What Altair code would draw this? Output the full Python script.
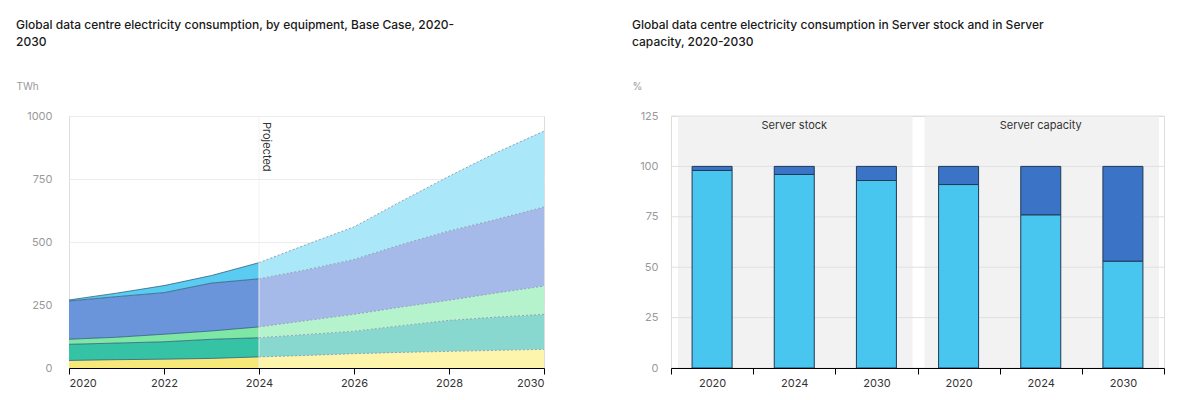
import altair as alt
import pandas as pd

# ---------- Left panel: consumption by equipment (TWh) ----------
years = [2020, 2021, 2022, 2023, 2024, 2025, 2026, 2027, 2028, 2029, 2030]
network = [30, 33, 35, 38, 44, 50, 57, 62, 66, 70, 74]
cooling = [64, 66, 69, 76, 76, 83, 89, 106, 123, 132, 139]
storage = [20, 23, 30, 33, 43, 55, 67, 74, 80, 96, 112]
conventional = [152, 161, 165, 190, 191, 202, 218, 248, 275, 292, 314]
accelerated = [4, 14, 28, 30, 64, 100, 129, 172, 217, 265, 301]

series_names = ["Network", "Cooling and other infrastructure", "Storage",
                "Conventional servers", "Accelerated servers"]
series_values = [network, cooling, storage, conventional, accelerated]
hist_colors = ["#f6e97a", "#36c2a4", "#7fe7a6", "#6a95da", "#5acbf1"]
proj_colors = ["#fdf5ab", "#88d8cf", "#b5f3cd", "#a5bae8", "#aae7f8"]
projection_start = 2024

rows = []
for phase, yr_sel in (("hist", [y for y in years if y <= projection_start]),
                      ("proj", [y for y in years if y >= projection_start])):
    for order, (name, vals) in enumerate(zip(series_names, series_values)):
        for y, v in zip(years, vals):
            if y in yr_sel:
                rows.append({"year": y, "series": name, "order": order,
                             "value": v, "phase": phase, "key": f"{phase}:{name}"})
eq = pd.DataFrame(rows)

key_domain = [f"hist:{n}" for n in series_names] + [f"proj:{n}" for n in series_names]
key_range = hist_colors + proj_colors

FONT = "Inter"

base = alt.Chart(eq).transform_stack(
    stack="value", groupby=["phase", "year"], as_=["y0", "y1"],
    sort=[alt.SortField("order", order="ascending")]
)

x_enc = alt.X("year:Q", scale=alt.Scale(domain=[2020, 2030], nice=False),
              axis=alt.Axis(values=[2020, 2022, 2024, 2026, 2028, 2030], format="d",
                            title=None, grid=False, domainColor="#000", tickColor="#000",
                            tickSize=6, labelColor="#333", labelFontSize=11,
                            labelPadding=3, labelFont=FONT))
y_enc = alt.Y("y1:Q", scale=alt.Scale(domain=[0, 1000], nice=False),
              axis=alt.Axis(values=[0, 250, 500, 750, 1000], format="d", title="TWh",
                            titleAngle=0, titleAlign="left", titleBaseline="middle",
                            titleX=-53, titleY=-30, titleFontWeight="normal",
                            titleColor="#999", titleFontSize=10, titleFont=FONT,
                            domain=False, ticks=False, gridColor="#ececec",
                            labelColor="#999", labelFontSize=11, labelPadding=17,
                            labelFont=FONT))
color_enc = alt.Color("key:N", scale=alt.Scale(domain=key_domain, range=key_range), legend=None)

area_hist = base.transform_filter("datum.phase == 'hist'").mark_area().encode(
    x=x_enc, y=y_enc, y2="y0:Q", color=color_enc, detail="series:N")
area_proj = base.transform_filter("datum.phase == 'proj'").mark_area().encode(
    x=x_enc, y=y_enc, y2="y0:Q", color=color_enc, detail="series:N")
line_hist = base.transform_filter("datum.phase == 'hist'").mark_line(
    color="#2d5b78", strokeWidth=0.9, opacity=0.85).encode(
    x=x_enc, y=y_enc, detail="series:N")
line_proj = base.transform_filter("datum.phase == 'proj'").mark_line(
    color="#8ea3b5", strokeWidth=1, strokeDash=[2, 2]).encode(
    x=x_enc, y=y_enc, detail="series:N")

proj_rule = alt.Chart(pd.DataFrame({"year": [projection_start]})).mark_rule(
    color="#f2f2f2", strokeWidth=1, opacity=0.9).encode(
    x="year:Q", y=alt.datum(0), y2=alt.datum(1000))
proj_text = alt.Chart(pd.DataFrame({"year": [projection_start], "label": ["Projected"]})).mark_text(
    angle=90, align="left", baseline="bottom", dx=6, dy=-2, fontSize=11, color="#333",
    font=FONT).encode(x="year:Q", y=alt.datum(1000), text="label:N")

left = alt.layer(area_hist, area_proj, line_hist, line_proj, proj_rule, proj_text).properties(
    width=475, height=252,
    title=alt.TitleParams(
        text=["Global data centre electricity consumption, by equipment, Base Case, 2020-",
              "2030"],
        anchor="start", frame="bounds", fontSize=12, fontWeight=500, color="#1a1a1a",
        font=FONT, lineHeight=17, offset=32)
)

# ---------- Right panel: shares in server stock and server capacity (%) ----------
groups = ["Server stock", "Server capacity"]
bar_years = ["2020", "2024", "2030"]
conventional_share = [98, 96, 93, 91, 76, 53]
accelerated_share = [2, 4, 7, 9, 24, 47]
share_names = ["Conventional servers", "Accelerated servers"]
share_colors = ["#48c6ef", "#3b73c7"]

cats = [f"{g}|{y}" for g in groups for y in bar_years]
bar_rows = []
for order, (name, vals) in enumerate(zip(share_names, [conventional_share, accelerated_share])):
    for c, v in zip(cats, vals):
        bar_rows.append({"cat": c, "series": name, "order": order, "value": v})
bars_df = pd.DataFrame(bar_rows)

panel_df = pd.DataFrame({
    "group": groups,
    "start": [cats[0], cats[3]],
    "end": [cats[2], cats[5]],
    "mid": [cats[1], cats[4]],
})
grid_df = pd.DataFrame({"v": [0, 25, 50, 75, 100, 125]})

x_scale = alt.Scale(domain=cats, paddingInner=0, paddingOuter=0)
y_scale = alt.Scale(domain=[0, 125], nice=False)
x_axis = alt.Axis(title=None, labelAngle=0, tickBand="extent",
                  labelExpr="split(datum.label, '|')[1]", domainColor="#000",
                  tickColor="#000", tickSize=6, labelColor="#333", labelFontSize=11,
                  labelPadding=3, labelFont=FONT, grid=False)
y_axis = alt.Axis(values=[0, 25, 50, 75, 100, 125], title="%", titleAngle=0,
                  titleAlign="left", titleBaseline="middle", titleX=-39, titleY=-30,
                  titleFontWeight="normal", titleColor="#999", titleFontSize=10,
                  titleFont=FONT, domain=False, ticks=False, grid=False,
                  labelColor="#999", labelFontSize=11, labelPadding=13, labelFont=FONT)

panels = alt.Chart(panel_df).mark_rect(color="#f2f2f2", xOffset=7, x2Offset=-5).encode(
    x=alt.X("start:N", scale=x_scale, bandPosition=0, axis=x_axis),
    x2=alt.X2("end:N", bandPosition=1),
    y=alt.Y(datum=0, scale=y_scale, axis=y_axis), y2=alt.datum(125))
grid = alt.Chart(grid_df).mark_rule(color="#e0e0e0", strokeWidth=1).encode(
    y=alt.Y("v:Q", scale=y_scale, axis=y_axis))
headers = alt.Chart(panel_df).mark_text(
    baseline="middle", dy=10, fontSize=11, color="#333", font=FONT).encode(
    x=alt.X("mid:N", scale=x_scale, axis=x_axis), y=alt.datum(125), text="group:N")
bars = alt.Chart(bars_df).mark_bar(size=40, stroke="#1f3a56", strokeWidth=1).encode(
    x=alt.X("cat:N", scale=x_scale, axis=x_axis),
    y=alt.Y("sum(value):Q", scale=y_scale, stack="zero", axis=y_axis),
    color=alt.Color("series:N", scale=alt.Scale(domain=share_names, range=share_colors),
                    legend=None),
    order=alt.Order("order:Q", sort="ascending"),
)

right = alt.layer(panels, grid, headers, bars).properties(
    width=493, height=252,
    title=alt.TitleParams(
        text=["Global data centre electricity consumption in Server stock and in Server",
              "capacity, 2020-2030"],
        anchor="start", frame="bounds", fontSize=12, fontWeight=500, color="#1a1a1a",
        font=FONT, lineHeight=17, offset=32)
)

chart = alt.hconcat(left, right, spacing=84).resolve_scale(color="independent").properties(
    padding={"left": 15, "top": 18, "right": 0, "bottom": 0},
    background="#ffffff",
).configure_view(stroke=None).configure(font=FONT)

chart.save("out.html", embed_options={"renderer": "svg", "actions": False})
